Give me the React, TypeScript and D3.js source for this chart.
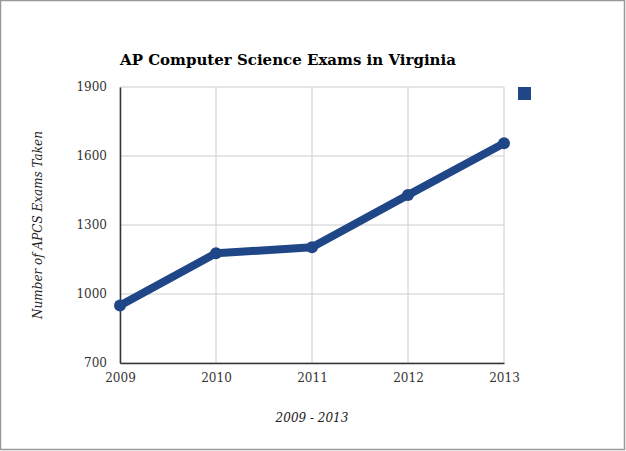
import { useEffect, useRef } from 'react';
import * as d3 from 'd3';

const years = ['2009', '2010', '2011', '2012', '2013'];
const exams = [950, 1177, 1203, 1430, 1655];
const yTicks = [700, 1000, 1300, 1600, 1900];

const title = 'AP Computer Science Exams in Virginia';
const yTitle = 'Number of APCS Exams Taken';
const xTitle = '2009 - 2013';

export default function App() {
  const svgRef = useRef<SVGSVGElement>(null);

  useEffect(() => {
    if (!svgRef.current) return;

    const width = 626;
    const height = 451;
    const margin = { top: 87, right: 122, bottom: 88, left: 120 };
    const blue = '#1f4788';
    const serif = '"DejaVu Serif", "Liberation Serif", serif';

    const svg = d3.select(svgRef.current);
    svg.selectAll('*').remove();

    // outer frame
    svg
      .append('rect')
      .attr('x', 0.5)
      .attr('y', 0.5)
      .attr('width', 624)
      .attr('height', 449)
      .attr('fill', 'white')
      .attr('stroke', '#999')
      .attr('stroke-width', 1.5);

    const chartWidth = width - margin.left - margin.right;
    const chartHeight = height - margin.top - margin.bottom;

    const xScale = d3
      .scalePoint()
      .domain(years)
      .range([0, chartWidth]);

    const yScale = d3
      .scaleLinear()
      .domain([700, 1900])
      .range([chartHeight, 0]);

    const chart = svg
      .append('g')
      .attr('transform', `translate(${margin.left}, ${margin.top})`);

    // grid
    chart
      .append('g')
      .selectAll('line.h')
      .data(yTicks)
      .enter()
      .append('line')
      .attr('x1', 0)
      .attr('x2', chartWidth)
      .attr('y1', (d) => yScale(d))
      .attr('y2', (d) => yScale(d))
      .attr('stroke', '#ccc');

    chart
      .append('g')
      .selectAll('line.v')
      .data(years)
      .enter()
      .append('line')
      .attr('x1', (d) => xScale(d)!)
      .attr('x2', (d) => xScale(d)!)
      .attr('y1', 0)
      .attr('y2', chartHeight)
      .attr('stroke', '#ccc');

    // axes
    const yAxis = chart
      .append('g')
      .call(d3.axisLeft(yScale).tickValues(yTicks).tickSize(0).tickPadding(13).tickFormat(d3.format('d')));
    yAxis.select('.domain').attr('stroke', '#333').attr('stroke-width', 1.5);
    yAxis
      .selectAll('text')
      .attr('font-family', serif)
      .attr('font-size', '12px')
      .attr('fill', '#333');

    const xAxis = chart
      .append('g')
      .attr('transform', `translate(0, ${chartHeight})`)
      .call(d3.axisBottom(xScale).tickSize(0).tickPadding(10));
    xAxis.select('.domain').attr('stroke', '#333').attr('stroke-width', 1.5);
    xAxis
      .selectAll('text')
      .attr('font-family', serif)
      .attr('font-size', '12px')
      .attr('fill', '#333');

    // line + markers
    const line = d3
      .line<number>()
      .x((_, i) => xScale(years[i])!)
      .y((d) => yScale(d));

    chart
      .append('path')
      .datum(exams)
      .attr('d', line)
      .attr('fill', 'none')
      .attr('stroke', blue)
      .attr('stroke-width', 8)
      .attr('stroke-linejoin', 'round');

    chart
      .selectAll('circle')
      .data(exams)
      .enter()
      .append('circle')
      .attr('cx', (_, i) => xScale(years[i])!)
      .attr('cy', (d) => yScale(d))
      .attr('r', 6)
      .attr('fill', blue);

    // legend swatch (no label)
    svg
      .append('rect')
      .attr('x', 518)
      .attr('y', 87)
      .attr('width', 13)
      .attr('height', 13)
      .attr('fill', blue);

    // titles
    svg
      .append('text')
      .attr('x', 120)
      .attr('y', 65)
      .attr('font-family', serif)
      .attr('font-weight', 'bold')
      .attr('font-size', '15px')
      .attr('fill', '#000')
      .text(title);

    svg
      .append('text')
      .attr('transform', `translate(42, ${margin.top + chartHeight / 2}) rotate(-90)`)
      .attr('text-anchor', 'middle')
      .attr('font-family', serif)
      .attr('font-style', 'italic')
      .attr('font-size', '12px')
      .attr('fill', '#222')
      .text(yTitle);

    svg
      .append('text')
      .attr('x', margin.left + chartWidth / 2)
      .attr('y', 422)
      .attr('text-anchor', 'middle')
      .attr('font-family', serif)
      .attr('font-style', 'italic')
      .attr('font-size', '12px')
      .attr('fill', '#222')
      .text(xTitle);
  }, []);

  return (
    <svg
      ref={svgRef}
      width={626}
      height={451}
      style={{ position: 'absolute', left: 0, top: 0 }}
    ></svg>
  );
}
